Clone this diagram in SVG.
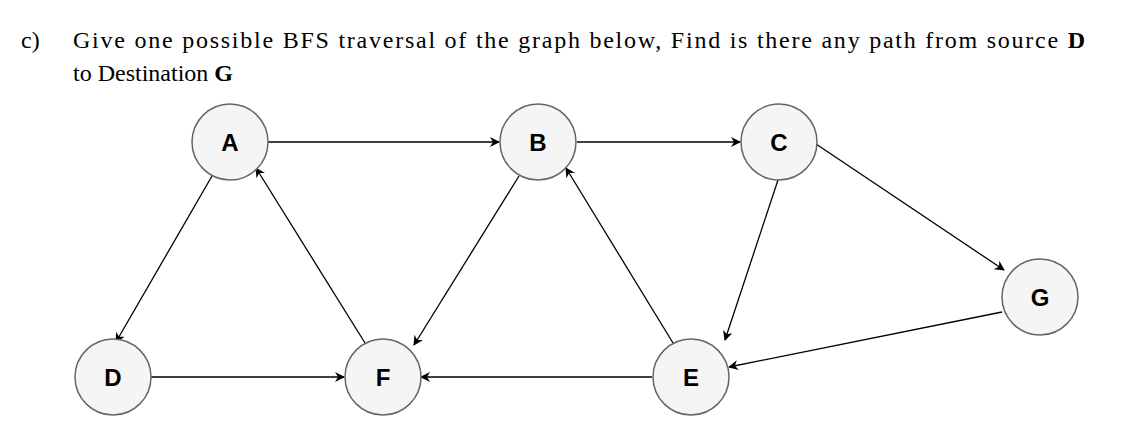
<svg xmlns="http://www.w3.org/2000/svg" width="1142" height="438" viewBox="0 0 1142 438">
<style>
.t{font-family:"Liberation Serif",serif;font-size:24px;fill:#000}
.n circle{fill:#f5f5f5;stroke:#666;stroke-width:1.5}
.n text{font-family:"Liberation Sans",Arial,sans-serif;font-weight:bold;font-size:24px;text-anchor:middle;fill:#000}
.e line{stroke:#000;stroke-width:1.3;marker-end:url(#ar)}
</style>
<defs><marker id="ar" viewBox="0 0 10 10" refX="9" refY="5" markerWidth="10" markerHeight="10" markerUnits="userSpaceOnUse" orient="auto"><path d="M0,0 L10,5 L0,10 L3,5 z" fill="#000"/></marker></defs>
<rect width="1142" height="438" fill="#fff"/>
<text class="t" x="21" y="48">c)</text>
<text class="t" x="73" y="48" textLength="1012" lengthAdjust="spacing">Give one possible BFS traversal of the graph below, Find is there any path from source <tspan font-weight="bold">D</tspan></text>
<text class="t" x="73" y="81">to Destination <tspan font-weight="bold">G</tspan></text>
<g class="e" id="edges">
<line x1="268" y1="142" x2="499" y2="142"/>
<line x1="577" y1="142" x2="740" y2="142"/>
<line x1="816" y1="144" x2="1004" y2="270"/>
<line x1="212" y1="176" x2="116" y2="342"/>
<line x1="151" y1="377" x2="344" y2="377"/>
<line x1="365" y1="343" x2="256" y2="168"/>
<line x1="519" y1="176" x2="414" y2="345"/>
<line x1="652" y1="377" x2="421" y2="377"/>
<line x1="673" y1="343" x2="566" y2="168"/>
<line x1="778" y1="180" x2="725" y2="340"/>
<line x1="1002" y1="312" x2="729" y2="367"/>
</g>
<g class="n" id="A"><circle cx="230" cy="142" r="38"/><text x="230" y="151">A</text></g>
<g class="n" id="B"><circle cx="538" cy="142" r="38"/><text x="538" y="151">B</text></g>
<g class="n" id="C"><circle cx="779" cy="142" r="38"/><text x="779" y="151">C</text></g>
<g class="n" id="G"><circle cx="1040" cy="297" r="38"/><text x="1040" y="306">G</text></g>
<g class="n" id="D"><circle cx="113" cy="377" r="38"/><text x="113" y="386">D</text></g>
<g class="n" id="F"><circle cx="383" cy="377" r="38"/><text x="383" y="386">F</text></g>
<g class="n" id="E"><circle cx="691" cy="377" r="38"/><text x="691" y="386">E</text></g>
</svg>
